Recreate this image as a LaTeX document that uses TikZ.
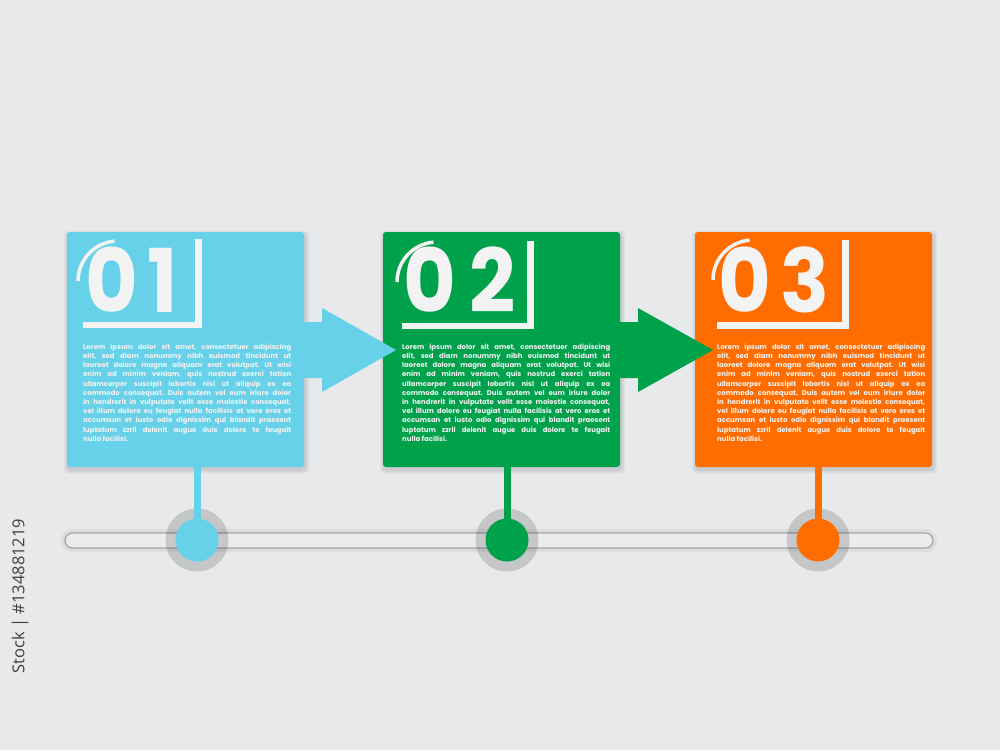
\documentclass[tikz,border=0pt]{standalone}
\usepackage{fontspec}
\setmainfont{Poppins}
\newfontfamily\sidefont{Open Sans}
\definecolor{bgc}{HTML}{E8E9EB}
\definecolor{cya}{HTML}{66D1E8}
\definecolor{grn}{HTML}{00A14B}
\definecolor{org}{HTML}{FF6D00}
\definecolor{numc}{HTML}{F3F3F3}
\definecolor{barfill}{HTML}{ECECEE}
\definecolor{barline}{HTML}{A3A4A6}
\definecolor{barhalo}{HTML}{DCDDDF}
\definecolor{sidec}{HTML}{404040}
\frenchspacing
\newlength{\tw}\setlength{\tw}{208pt}
\newcommand{\lline}[1]{\makebox[\tw][s]{#1}}
\newcommand{\digit}[1]{\scalebox{0.92}[1]{#1}}
\newcommand{\loremtext}{%
\lline{Lorem ipsum dolor sit amet, consectetuer adipiscing}\\
\lline{elit, sed diam nonummy nibh euismod tincidunt ut}\\
\lline{laoreet dolore magna aliquam erat volutpat. Ut wisi}\\
\lline{enim ad minim veniam, quis nostrud exerci tation}\\
\lline{ullamcorper suscipit lobortis nisl ut aliquip ex ea}\\
\lline{commodo consequat. Duis autem vel eum iriure dolor}\\
\lline{in hendrerit in vulputate velit esse molestie consequat,}\\
\lline{vel illum dolore eu feugiat nulla facilisis at vero eros et}\\
\lline{accumsan et iusto odio dignissim qui blandit praesent}\\
\lline{luptatum zzril delenit augue duis dolore te feugait}\\
nulla facilisi.}
\begin{document}
\begin{tikzpicture}[x=1pt,y=-1pt,
  box/.style={rectangle, rounded corners=3pt, inner sep=0pt, minimum width=237pt, minimum height=235pt, draw=none},
  txt/.style={inner sep=0pt, anchor=north west, align=left, text=numc, font=\fontsize{6.9}{9.2}\selectfont\bfseries},
  num/.style={inner sep=0pt, anchor=base, text=numc, font=\fontsize{88}{88}\selectfont\bfseries},
  halo/.style={circle, fill=black, fill opacity=0.15, minimum size=63pt, inner sep=0pt, draw=none},
  dot/.style={circle, minimum size=43pt, inner sep=0pt, draw=none},
  stem/.style={line width=7pt},
  numarc/.style={draw=numc, line width=3.5pt},
  side/.style={inner sep=0pt, text=sidec, font=\sidefont\fontsize{16.5}{16.5}\selectfont}
]
\useasboundingbox (0,0) rectangle (1000,750);
\fill[bgc] (0,0) rectangle (1000,750);
% box shadows
\foreach \L in {67,383,695}{
  \foreach \i in {1,...,4}{
    \fill[black, opacity=0.03, rounded corners=4pt] (\L-\i+1,232-\i+2.5) rectangle (\L+237+\i+1,467+\i+2.5);
  }
}
% timeline bar
\fill[barhalo, rounded corners=11.5pt] (61,529) rectangle (937,552);
\filldraw[fill=barfill, draw=barline, line width=1.2pt, rounded corners=7.5pt] (65,533) rectangle (933,548);
% halos
\node[halo] (h1) at (197,540) {};
\node[halo] (h2) at (507,540) {};
\node[halo] (h3) at (818,540) {};
% boxes
\node[box, fill=cya] (b1) at (185.5,349.5) {};
\node[box, fill=grn] (b2) at (501.5,349.5) {};
\node[box, fill=org] (b3) at (813.5,349.5) {};
% dots
\node[dot, fill=cya] (c1) at (h1) {};
\node[dot, fill=grn] (c2) at (h2) {};
\node[dot, fill=org] (c3) at (h3) {};
% stems
\draw[stem, cya] (c1.center) -- (c1.center |- b1.south);
\draw[stem, grn] (c2.center) -- (c2.center |- b2.south);
\draw[stem, org] (c3.center) -- (c3.center |- b3.south);
% arrows
\fill[cya] (300,322) -- (322,322) -- (322,308) -- (396,350) -- (322,392) -- (322,378) -- (300,378) -- cycle;
\fill[grn] (616,322) -- (638,322) -- (638,308) -- (713,350) -- (638,392) -- (638,378) -- (616,378) -- cycle;
% numbers
\node[num] (n1a) at (111.5,312) {\digit{0}};
\node[num] (n1b) at (162.5,312) {\digit{1}};
\node[num] (n2a) at (430,312) {\digit{0}};
\node[num] (n2b) at (492.5,312) {\digit{2}};
\node[num] (n3a) at (745,312) {\digit{0}};
\node[num] (n3b) at (805,312) {\digit{3}};
% brackets
\fill[numc] (195,239) rectangle (202,328);
\fill[numc] (83,322) rectangle (202,328);
\fill[numc] (527,241) rectangle (534,329);
\fill[numc] (402,323) rectangle (534,329);
\fill[numc] (842,240) rectangle (849,329);
\fill[numc] (717,322) rectangle (849,329);
% arcs
\draw[numarc] (78,281) arc[start angle=180, end angle=265, radius=40];
\draw[numarc] (397,282) arc[start angle=180, end angle=265, radius=40];
\draw[numarc] (713,280) arc[start angle=180, end angle=265, radius=40];
% texts
\node[txt] (t1) at (83,343.5) {\loremtext};
\node[txt] (t2) at (402,343.5) {\loremtext};
\node[txt] (t3) at (717,343.5) {\loremtext};
% side label
\node[side, rotate=90] (wm) at (20,596) {Stock | \#134881219};
\end{tikzpicture}
\end{document}
